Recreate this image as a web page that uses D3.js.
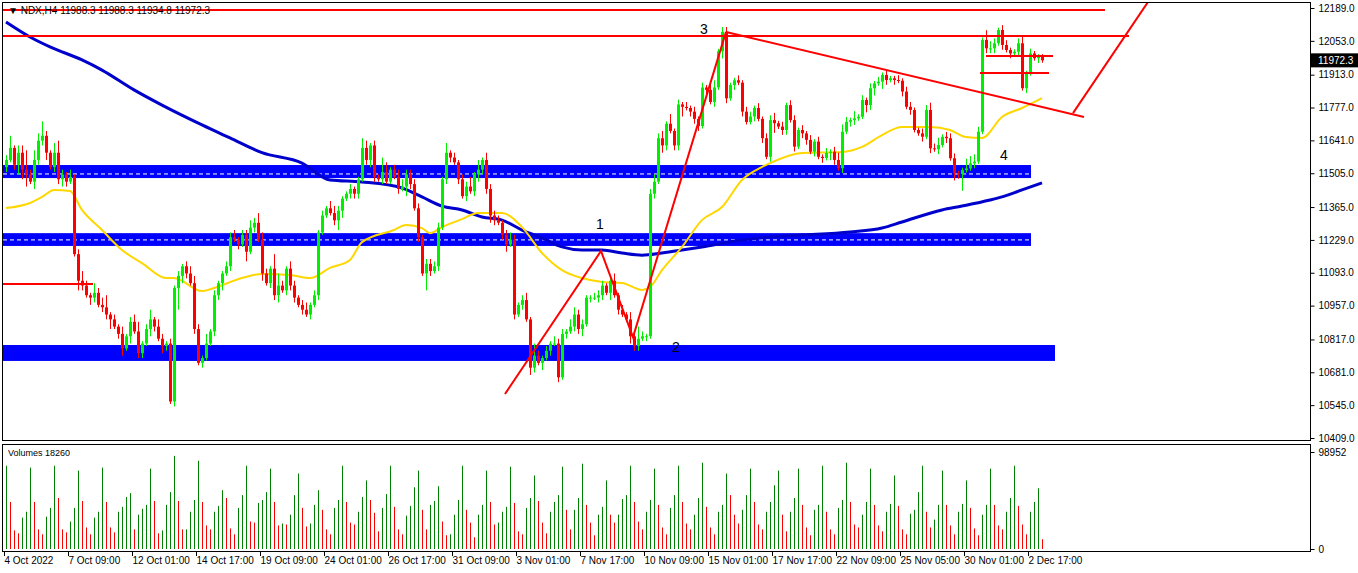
<!DOCTYPE html>
<html><head><meta charset="utf-8">
<script src="https://cdn.jsdelivr.net/npm/d3@7"></script>
<style>body{margin:0;background:#fff}svg{display:block;font-family:"Liberation Sans",sans-serif}</style>
</head><body><svg id="c" width="1358" height="573"></svg>
<script>
const closes=[11560,11610,11540,11590,11520,11500,11470,11560,11640,11660,11590,11530,11590,11480,11500,11470,11490,
11170,11060,11040,11000,10990,11010,10960,10950,10920,10900,10870,10840,10780,10830,10890,10850,10760,10800,10860,10900,10870,10820,10790,10800,10560,11030,
11080,11120,11090,11050,10860,10720,10740,10800,10850,11000,11050,11090,11120,11240,11230,11210,11250,11180,11280,11300,11230,
11090,11050,11110,11000,11040,11020,11110,11040,10990,10960,10940,10920,10960,11000,11260,11330,11360,11340,11310,11350,11400,11420,11440,11420,11480,
11610,11560,11620,11490,11480,11510,11470,11520,11490,11440,11450,11500,11460,11360,
11240,11090,11130,11100,11120,11280,11480,11590,11570,11550,11480,11410,11450,11430,11500,11520,11560,11440,11330,11310,11300,11250,11210,11230,10920,10960,10980,10900,
10700,10750,10720,10740,10770,10800,10800,10660,10840,10850,10870,10920,10860,10880,10990,10990,10990,11000,11040,11010,11060,11000,10940,10920,10900,10830,10790,10820,10830,10830,
11420,11470,11650,11620,11710,11680,11620,11790,11780,11775,11760,11730,11700,11860,11850,11800,11860,12010,12090,11815,11870,11890,11880,11760,11717,11740,11775,11730,11650,
11573,11725,11712,11698,11684,11787,11725,11615,11684,11670,11643,11594,11636,11573,11568,11589,11594,11560,11526,11677,11718,11725,11732,11739,11808,11787,11857,11877,11884,11912,
11891,11898,11891,11888,11843,11780,11767,11684,11670,11656,11767,11608,11604,11622,11656,11650,11567,11505,11502,11518,11525,11546,11553,11677,12057,12022,12022,12043,12098,12036,
12015,12001,12008,12043,11857,11919,12001,11981,11988,11972.3];
const firstOpen=11530;
const wickUp  ="2513382436214521312421423512131234124132121212332141211223122324321652132123121213321121143121641233222212222141212241413222123212315212132213322112221131213252123231412121212133122112122121223121221212121212332131212121211212211223231222114332143212211231211121212131";
const wickDown="2124451322312232114213212241231312213213212932121211223121214121312231222121212111243122212321211121421217212122121212322321231212132131212121223121221312113221212132122412221212132121211212124122121221212132121221132313212121211212121213271121122212121212112121212";
const volumes=[85,48,19,16,32,38,83,48,20,15,33,42,85,52,20,17,28,42,80,49,22,15,32,38,83,48,22,17,38,43,
53,57,20,35,41,45,82,49,16,19,45,58,95,49,20,20,38,50,90,48,24,20,38,44,60,52,21,15,42,55,
85,28,27,47,50,58,82,48,24,26,25,35,55,77,42,23,26,45,60,40,20,15,42,50,85,48,27,25,38,53,
70,50,37,18,42,56,85,43,20,15,34,44,63,80,40,20,45,49,64,28,14,15,35,50,85,40,27,12,35,45,
80,48,25,27,38,43,84,47,18,15,42,52,75,49,27,16,38,48,55,84,40,20,40,52,87,45,27,14,35,43,
70,35,27,35,51,55,85,48,28,20,38,50,82,45,22,15,42,55,85,48,26,20,35,52,88,43,22,15,38,45,
77,55,35,26,40,55,82,48,25,20,38,48,65,80,35,18,38,52,82,45,22,14,40,45,85,38,20,15,42,50,
88,48,25,22,35,48,82,45,24,18,38,46,75,44,20,15,36,40,58,85,38,22,30,45,80,45,24,15,38,46,
70,42,21,14,35,45,82,45,24,20,38,52,85,44,25,15,38,48,62,10];
const yellowIdx=[0,6,9,12,16,19,24,29,34,40,42,49,52,59,64,71,76,81,86,89,97,100,104,106,109,114,118,124,129,134,139,144,149,154,159,161,164,169,174,179,184,189,191,199,209,214,219,224,231,236,240,244,249,254,259];
const yellowVal=[11361,11382,11407,11436,11431,11353,11270,11187,11133,11071,11071,11017,11030,11071,11088,11084,11071,11113,11146,11220,11270,11291,11278,11257,11282,11315,11340,11340,11282,11175,11104,11071,11055,11051,11022,11034,11104,11200,11311,11365,11477,11531,11547,11589,11593,11614,11663,11696,11696,11684,11655,11651,11738,11775,11816];
const blueIdx=[0,6,11,19,24,32,39,49,56,64,74,81,89,99,104,109,114,119,124,129,134,139,144,149,154,159,164,169,174,184,191,199,211,219,224,234,239,246,249,254,259];
const blueVal=[12131,12069,12028,11974,11932,11850,11787,11705,11651,11590,11547,11477,11469,11444,11407,11369,11353,11324,11311,11270,11237,11200,11187,11187,11175,11166,11175,11187,11200,11229,11241,11249,11262,11278,11303,11353,11369,11394,11407,11436,11465];
const priceTicks=[12189,12053,11913,11777,11641,11505,11365,11229,11093,10957,10817,10681,10545,10409];
const dateLabels=["4 Oct 2022","7 Oct 09:00","12 Oct 01:00","14 Oct 17:00","19 Oct 09:00","24 Oct 01:00","26 Oct 17:00","31 Oct 09:00","3 Nov 01:00","7 Nov 17:00","10 Nov 09:00","15 Nov 01:00","17 Nov 17:00","22 Nov 09:00","25 Nov 05:00","30 Nov 01:00","2 Dec 17:00"];
const dateIdx=[0,16,32,48,64,80,96,112,128,144,160,176,192,208,224,240,256];
const hLines=[[12181,-1,274.75],[12073,-1,280.75],[11046,-1,21.75],[11990,245,261.75],[11920,243.5,260.75]];
const bands=[[11539,11485,256.25,11502],[11257,11204,256.25,11229],[10794,10728,262.25,null]];
const zigzag=[[124.75,10591],[148.75,11183],[156.75,10827],[180,12090]];
const trendDown=[[180,12090],[269.5,11738]];
const trendUp=[[266.75,11754],[285.5,12214]];
const waveLabels=[["1",148.5,11275],["2",167.5,10765],["3",174.5,12083],["4",249.5,11558]];
const lastPrice=11972.3, volMax=98952, volLast=18260;

const svg=d3.select("#c");
const x=d3.scaleLinear().domain([0,259]).range([6,1042]);
const y=d3.scaleLinear().domain([10409,12189]).range([438,8]);
const vy=d3.scaleLinear().domain([0,volMax]).range([549,452]);
svg.append("defs").append("clipPath").attr("id","pc").append("rect").attr("x",3).attr("y",3).attr("width",1307).attr("height",437);
const main=svg.append("g").attr("clip-path","url(#pc)");

bands.forEach(b=>{
  main.append("rect").attr("x",3).attr("y",y(b[0])).attr("width",x(b[2])-3).attr("height",y(b[1])-y(b[0])).attr("fill","#0000ff");
  if(b[3]!==null) main.append("line").attr("x1",3).attr("x2",x(b[2])).attr("y1",y(b[3])).attr("y2",y(b[3])).attr("stroke","#fff").attr("stroke-dasharray","4,3");
});
const ln=d3.line().x(d=>x(d[0])).y(d=>y(d[1])).curve(d3.curveMonotoneX);
main.append("path").attr("d",ln(blueIdx.map((v,i)=>[v,blueVal[i]]))).attr("fill","none").attr("stroke","#0000cc").attr("stroke-width",3);
main.append("path").attr("d",ln(yellowIdx.map((v,i)=>[v,yellowVal[i]]))).attr("fill","none").attr("stroke","#ffd700").attr("stroke-width",2);
const candles=closes.map((c,i)=>{const o=i?closes[i-1]:firstOpen;return{i,o,c,h:Math.max(o,c)+(+wickUp[i]||1)*10,l:Math.min(o,c)-(+wickDown[i]||1)*10};});
const cg=main.append("g");
candles.forEach(d=>{
  const col=d.c>=d.o?"#00ee00":"#ff0000";
  cg.append("line").attr("x1",x(d.i)+0.5).attr("x2",x(d.i)+0.5).attr("y1",y(d.h)).attr("y2",y(d.l)).attr("stroke",col);
  const t=y(Math.max(d.o,d.c)),b=y(Math.min(d.o,d.c));
  cg.append("rect").attr("x",x(d.i)-1).attr("y",t).attr("width",3).attr("height",Math.max(1,b-t)).attr("fill",col);
});
hLines.forEach(h=>main.append("line").attr("x1",x(h[1])).attr("x2",x(h[2])).attr("y1",y(h[0])).attr("y2",y(h[0])).attr("stroke","#ff0000").attr("stroke-width",2));
const sl=d3.line().x(d=>x(d[0])).y(d=>y(d[1]));
[zigzag,trendDown,trendUp].forEach(p=>main.append("path").attr("d",sl(p)).attr("fill","none").attr("stroke","#ff0000").attr("stroke-width",2));
waveLabels.forEach(w=>main.append("text").attr("x",x(w[1])).attr("y",y(w[2])).attr("font-size",14).attr("text-anchor","middle").text(w[0]));
main.append("text").attr("x",8).attr("y",14).attr("font-size",10).text("▼ NDX,H4  11988.3 11988.3 11934.8 11972.3");

svg.append("rect").attr("x",2.5).attr("y",2.5).attr("width",1308).attr("height",438).attr("fill","none").attr("stroke","#000");
svg.append("rect").attr("x",2.5).attr("y",444.5).attr("width",1308).attr("height",107).attr("fill","none").attr("stroke","#000");
const pa=svg.append("g").attr("transform","translate(1310.5,0)").call(d3.axisRight(y).tickValues(priceTicks).tickSize(4).tickFormat(d=>d.toFixed(1)));
pa.select(".domain").remove();
pa.selectAll("text").attr("font-size",10).attr("font-family","Liberation Sans").attr("x",8);
svg.append("rect").attr("x",1311).attr("y",y(lastPrice)-7).attr("width",47).attr("height",14).attr("fill","#000");
svg.append("text").attr("x",1318).attr("y",y(lastPrice)+4).attr("fill","#fff").attr("font-size",10).text(lastPrice.toFixed(1));

svg.append("text").attr("x",8).attr("y",456).attr("font-size",9).text("Volumes "+volLast);
const vg=svg.append("g");
volumes.forEach((v,i)=>{
  const col=(i>0&&v<volumes[i-1])?"#ff0000":"#008000";
  vg.append("line").attr("x1",x(i)+0.5).attr("x2",x(i)+0.5).attr("y1",vy(0)).attr("y2",vy(v*1000)).attr("stroke",col);
});
const va=svg.append("g").attr("transform","translate(1310.5,0)").call(d3.axisRight(vy).tickValues([volMax,0]).tickSize(4).tickFormat(d=>String(d)));
va.select(".domain").remove();
va.selectAll("text").attr("font-size",10).attr("font-family","Liberation Sans").attr("x",8);
const da=svg.append("g").attr("transform","translate(0,552)").call(d3.axisBottom(x).tickValues(dateIdx).tickSize(4).tickFormat((d,i)=>dateLabels[i]));
da.select(".domain").remove();
da.selectAll(".tick line").attr("transform","translate(-2,0)");
da.selectAll("text").attr("font-size",10).attr("font-family","Liberation Sans").attr("text-anchor","start").attr("x",-2).attr("y",5);
</script></body></html>
